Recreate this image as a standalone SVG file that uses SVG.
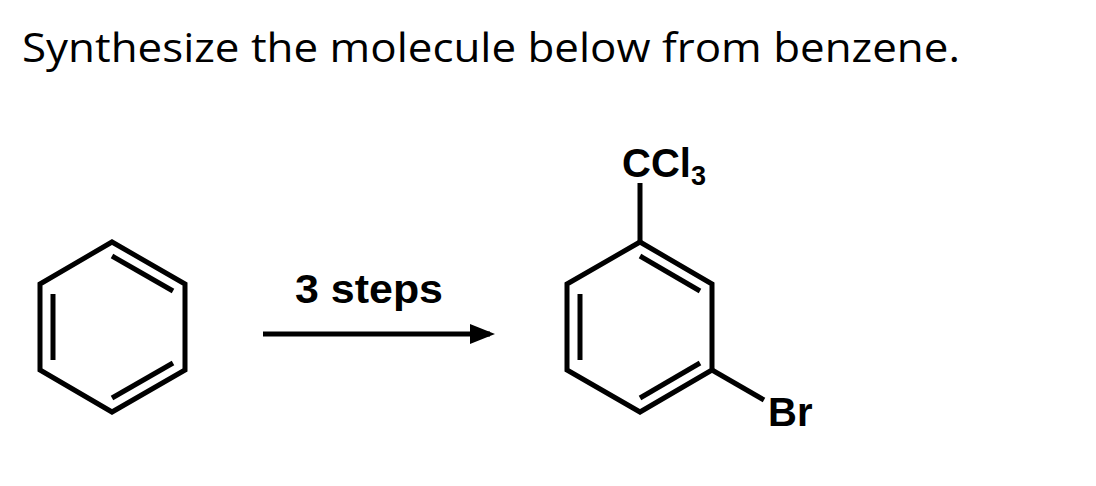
<svg xmlns="http://www.w3.org/2000/svg" width="1096" height="486" viewBox="0 0 1096 486">
<style>
.b{stroke:#000;stroke-width:5;fill:none;stroke-linecap:butt;stroke-linejoin:miter}
.t{font-family:"Liberation Sans",Arial,sans-serif;font-weight:bold;fill:#000}
</style>
<defs><marker id="ah" markerWidth="5" markerHeight="4" refX="4" refY="2" orient="auto" markerUnits="strokeWidth"><path d="M0,0 L5,2 L0,4 Z" fill="#000"/></marker></defs>
<rect width="1096" height="486" fill="#fff"/>
<text x="22" y="62" font-family="Open Sans,Liberation Sans,sans-serif" font-size="40" textLength="938" lengthAdjust="spacingAndGlyphs">Synthesize the molecule below from benzene.</text>
<g id="benzene">
<polygon class="b" points="112,242 185,284 185,370 112,412 40,370 40,284"/>
<line class="b" x1="112" y1="256" x2="173" y2="291"/>
<line class="b" x1="173" y1="363" x2="112" y2="398"/>
<line class="b" x1="53" y1="294" x2="53" y2="360"/>
</g>
<g id="connectors">
<line class="b" x1="263" y1="334" x2="490" y2="334" marker-end="url(#ah)"/>
<text class="t" x="369" y="303" font-size="40" text-anchor="middle" textLength="148" lengthAdjust="spacingAndGlyphs">3 steps</text>
</g>
<g id="product">
<polygon class="b" points="640,242 712,284 712,370 640,412 567,370 567,284"/>
<line class="b" x1="640" y1="256" x2="700" y2="291"/>
<line class="b" x1="700" y1="363" x2="640" y2="398"/>
<line class="b" x1="580" y1="294" x2="580" y2="360"/>
<line class="b" x1="640" y1="242" x2="640" y2="183"/>
<line class="b" x1="712" y1="370" x2="764" y2="400"/>
<text class="t" x="622" y="177" font-size="40">CCl<tspan font-size="27" dy="8">3</tspan></text>
<text class="t" x="768" y="426" font-size="40">Br</text>
</g>
</svg>
